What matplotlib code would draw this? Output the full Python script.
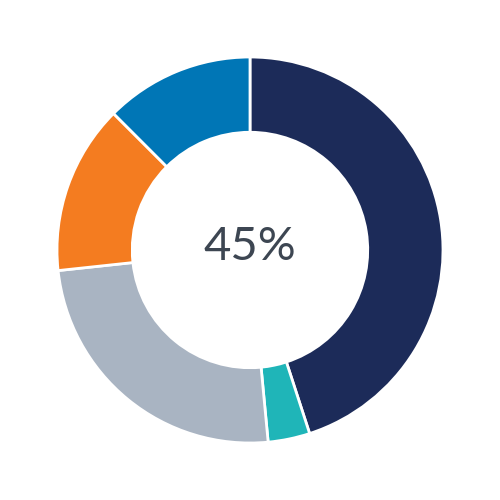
import matplotlib.pyplot as plt

# segment shares, clockwise from 12 o'clock
labels = ['Navy', 'Teal', 'Gray', 'Orange', 'Blue']
shares = [45, 3.5, 24.8, 14.2, 12.5]
colors = ['#1c2b59', '#1fb5b8', '#a9b4c2', '#f47c20', '#0076b6']
center_label = '45%'

fig = plt.figure(figsize=(5, 5), dpi=100)
ax = fig.add_axes([0, 0, 1, 1])

ax.pie(shares, colors=colors, startangle=90, counterclock=False,
       radius=1.0,
       wedgeprops=dict(width=0.39, edgecolor='white', linewidth=2))

ax.text(0, 0.015, center_label, ha='center', va='center',
        fontsize=34, color='#3d4652', family='Lato')

lim = 250 / 193
ax.set_xlim(-lim, lim)
ax.set_ylim(-lim, lim)
ax.set_aspect('equal')
ax.axis('off')

fig.savefig('out.png', dpi=100, facecolor='white')
